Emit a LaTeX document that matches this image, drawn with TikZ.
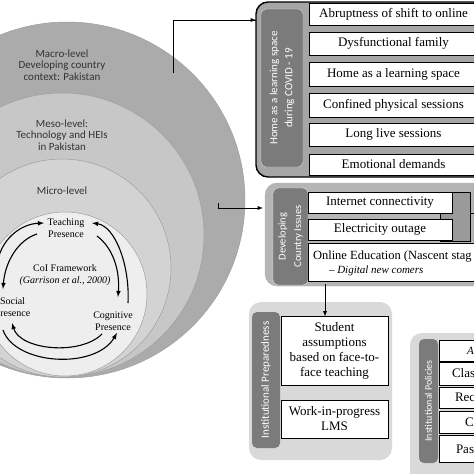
\documentclass[tikz,border=0pt]{standalone}
\usepackage{fontspec}
\setmainfont{Liberation Serif}
\newfontfamily\calibri{Carlito}
\usepackage{tikz}
\usetikzlibrary{calc}
\usetikzlibrary{positioning}
\definecolor{macrog}{HTML}{ABABAB}
\definecolor{mesog}{HTML}{C7C7C7}
\definecolor{microg}{HTML}{D3D3D3}
\definecolor{innerg}{HTML}{EEEEEE}
\definecolor{homeg}{HTML}{A6A6A6}
\definecolor{devg}{HTML}{B5B5B5}
\definecolor{instg}{HTML}{D9D9D9}
\definecolor{tagg}{HTML}{7B7B7B}
\begin{document}
\begin{tikzpicture}[x=1pt,y=-1pt,every node/.style={inner sep=0pt,outer sep=0pt},
	ring/.style={circle,draw=gray!75,line width=.5pt},
	lvl/.style={align=center,text=black!80,font=\calibri\fontsize{11}{11.6}\selectfont},
	coi/.style={align=center,font=\fontsize{10}{12.5}\selectfont},
	cyc/.style={-latex,line width=1.1pt},
	conn/.style={-latex,line width=.9pt},
	panel/.style={rounded corners=12pt},
	tag/.style={rotate=90,fill=tagg,rounded corners=5pt,text=white,align=center,font=\calibri\fontsize{11}{15}\selectfont},
	item/.style={draw,fill=white,line width=.9pt,align=center,font=\fontsize{13}{15}\selectfont}]
				\useasboundingbox (0,0) rectangle (474,474);
				\clip (0,0) rectangle (474,474);
				\node[ring,fill=macrog,minimum size=356] (macro) at (67,200) {};
				\node[ring,fill=mesog,minimum size=284] (meso) at (62,235) {};
				\node[ring,fill=microg,minimum size=218] (micro) at (62,268) {};
				\node[ring,fill=innerg,minimum size=164] (coi) at (65,294) {};
				\node[lvl] (t0) at (62,65) {Macro-level\\Developing country\\context: Pakistan};
				\node[lvl] (t1) at (62,135) {Meso-level:\\Technology and HEIs\\in Pakistan};
				\node[lvl] (t2) at (62,191) {Micro-level};
				\node[coi] (tp) at (66,228) {Teaching\\Presence};
				\node[coi] (fw) at (65,275) {CoI Framework\\\textit{(Garrison et al., 2000)}};
				\node[coi] (sp) at (12.5,307) {Social\\Presence};
				\node[coi] (cp) at (113,321) {Cognitive\\Presence};
				\draw[cyc] (-3,265) .. controls (0,240) and (20,224) .. (44,223);
				\draw[cyc] (37,234) .. controls (18,240) and (5,262) .. (3,289);
				\draw[cyc] (128,303) .. controls (130,265) and (115,226) .. (92,223);
				\draw[cyc] (97,236) .. controls (113,248) and (120,270) .. (118,297);
				\draw[cyc] (102,334) .. controls (80,356) and (20,350) .. (12,323);
				\draw[cyc] (3,330) .. controls (15,365) and (95,370) .. (117,333);
				\coordinate (m1) at (173,73);
				\coordinate (a1) at (256,20);
				\coordinate (m2) at (218,203);
				\coordinate (a2) at (263,208);
				\draw[conn,-] (m1) |- (a1);
				\draw[conn] ($(a1)+(-4,0)$) -- (a1);
				\draw[conn] (m2) |- (a2);
				\node[panel,draw=black,line width=1.4pt,fill=homeg,minimum width=234,minimum height=175] (home) at (373,89.5) {};
				\node[tag,draw=white!75!gray,minimum width=158,minimum height=42] (homet) at (282,88) {Home as a learning space\\during COVID - 19};
				\node[item,minimum width=169,minimum height=22] (h0) at (393.5,14) {Abruptness of shift to online};
				\node[item,minimum width=169,minimum height=23] (h1) at (393.5,43.5) {Dysfunctional family};
				\node[item,minimum width=169,minimum height=24] (h2) at (393.5,74) {Home as a learning space};
				\node[item,minimum width=169,minimum height=24] (h3) at (393.5,105) {Confined physical sessions};
				\node[item,minimum width=169,minimum height=23] (h4) at (393.5,134.5) {Long live sessions};
				\node[item,minimum width=169,minimum height=21] (h5) at (393.5,164.5) {Emotional demands};
				\node[panel,draw=gray!60,fill=devg,minimum width=225,minimum height=103] (dev) at (377.5,234.5) {};
				\node[tag,draw=white!75!gray,minimum width=97,minimum height=35,font=\calibri\fontsize{10.5}{15.5}\selectfont] (devt) at (290.5,236.5) {Developing\\Country Issues};
				\node[draw,fill=devg!85!black,line width=.9pt,minimum width=30,minimum height=49] (brk) at (455,216.5) {};
				\coordinate (b1) at (480,213);
				\draw[conn,-] (brk.east |- b1) -- (b1);
				\node[item,minimum width=144,minimum height=21] (d0) at (380,202.5) {Internet connectivity};
				\node[item,minimum width=144,minimum height=21] (d1) at (380,229.5) {Electricity outage};
				\node[item,minimum width=172,minimum height=38] (d2) at (394,262) {};
				\node[align=left,anchor=west,font=\fontsize{12.5}{14}\selectfont] (d2t) at (313,263) {Online Education (Nascent stag\\\hspace*{16pt}{\fontsize{11}{14}\selectfont– \textit{Digital new comers}}};
				\coordinate (d3) at (325,284);
				\node[panel,fill=instg,minimum width=143,minimum height=158] (prep) at (320.5,381) {};
				\node[tag,minimum width=136,minimum height=28] (prept) at (266,380) {Institutional Preparedness};
				\node[item,minimum width=107,minimum height=69] (stud) at (334.5,351) {Student\\assumptions\\based on face-to-\\face teaching};
				\node[item,minimum width=107,minimum height=38] (lms) at (334.5,419) {Work-in-progress\\LMS};
				\draw[conn] (d3) -- (d3 |- stud.north);
				\node[panel,fill=instg,minimum width=80,minimum height=157] (pol) at (450,411.5) {};
				\node[tag,minimum width=124,minimum height=19,font=\calibri\fontsize{10}{12}\selectfont] (polt) at (428.5,401) {Institutional Policies};
				\node[item,minimum width=50,minimum height=21] (p0) at (464,350.5) {};
				\node[item,minimum width=50,minimum height=23] (p1) at (464,373.5) {};
				\node[item,minimum width=50,minimum height=21] (p2) at (464,397.5) {};
				\node[item,minimum width=50,minimum height=22] (p3) at (464,422) {};
				\node[item,minimum width=50,minimum height=27] (p4) at (464,449) {};
				\node[right=28pt of p0.west,font=\fontsize{11}{13}\selectfont\itshape] {A};
				\node[right=13pt of p1.west,font=\fontsize{13}{15}\selectfont] {Clas};
				\node[right=16pt of p2.west,font=\fontsize{13}{15}\selectfont] {Rec};
				\node[right=26pt of p3.west,font=\fontsize{13}{15}\selectfont] {C};
				\node[right=17pt of p4.west,font=\fontsize{13}{15}\selectfont] {Pas};
			\end{tikzpicture}
\end{document}
